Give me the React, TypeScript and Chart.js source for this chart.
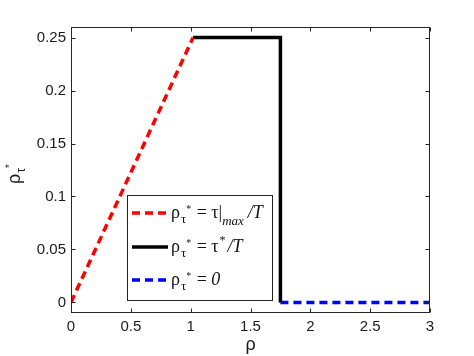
import React, { useEffect, useRef } from 'react';
import { Chart, registerables } from 'chart.js';
Chart.register(...registerables);

const redX = [0, 1.02];
const redY = [0, 0.25];
const blackX = [1.02, 1.75, 1.75];
const blackY = [0.25, 0.25, 0];
const blueX = [1.75, 3];
const blueY = [0, 0];
const xTicks = [0, 0.5, 1, 1.5, 2, 2.5, 3];
const yTicks = [0, 0.05, 0.1, 0.15, 0.2, 0.25];

const SERIF = 'Liberation Serif';
const SANS = 'Liberation Sans';
const AXC = '#262626';

type Seg = { t: string; f: string; dy?: number; dx?: number };

function drawRich(ctx: CanvasRenderingContext2D, x: number, y: number, segs: Seg[]) {
  let cx = x;
  for (const s of segs) {
    ctx.font = s.f;
    cx += s.dx || 0;
    ctx.fillText(s.t, cx, y + (s.dy || 0));
    cx += ctx.measureText(s.t).width;
  }
}

const rhoTau = (): Seg[] => [
  { t: 'ρ', f: `18px ${SERIF}` },
  { t: 'τ', f: `13px ${SERIF}`, dy: 5, dx: 1 },
  { t: '*', f: `10px ${SERIF}`, dy: -6, dx: 0 },
];

const framePlugin = {
  id: 'frame',
  afterDraw(chart: any) {
    const ctx: CanvasRenderingContext2D = chart.ctx;
    const a = chart.chartArea;
    const xs = chart.scales.x;
    const ys = chart.scales.y;
    ctx.save();
    ctx.strokeStyle = AXC;
    ctx.lineWidth = 1;
    const L = Math.round(a.left) + 0.5, R = Math.round(a.right) - 0.5;
    const T = Math.round(a.top) + 0.5, B = Math.round(a.bottom) - 0.5;
    ctx.strokeRect(L, T, R - L, B - T);
    ctx.beginPath();
    for (const v of xTicks) {
      const px = Math.round(xs.getPixelForValue(v)) + 0.5;
      ctx.moveTo(px, B); ctx.lineTo(px, B - 4);
      ctx.moveTo(px, T); ctx.lineTo(px, T + 4);
    }
    for (const v of yTicks) {
      const py = Math.round(ys.getPixelForValue(v)) + 0.5;
      ctx.moveTo(L, py); ctx.lineTo(L + 4, py);
      ctx.moveTo(R, py); ctx.lineTo(R - 4, py);
    }
    ctx.stroke();

    // y axis title (rotated)
    ctx.fillStyle = '#1a1a1a';
    ctx.translate(20, 184);
    ctx.rotate(-Math.PI / 2);
    ctx.textBaseline = 'alphabetic';
    drawRich(ctx, 0, 0, [
      { t: 'ρ', f: `18px ${SANS}` },
      { t: 'τ', f: `12px ${SANS}`, dy: 5, dx: 1 },
      { t: '*', f: `10px ${SANS}`, dy: -7 },
    ]);
    ctx.restore();

    // legend
    ctx.save();
    const bx = 127, by = 195, bw = 145, bh = 105;
    ctx.fillStyle = '#ffffff';
    ctx.fillRect(bx, by, bw, bh);
    ctx.strokeStyle = '#222';
    ctx.lineWidth = 1;
    ctx.strokeRect(bx + 0.5, by + 0.5, bw, bh);
    const rows = [213, 247, 280];
    const styles = [
      { c: '#ff0000', d: [8, 5] },
      { c: '#000000', d: [] as number[] },
      { c: '#0000ff', d: [8, 5] },
    ];
    ctx.lineWidth = 3.5;
    rows.forEach((ry, i) => {
      ctx.strokeStyle = styles[i].c;
      ctx.setLineDash(styles[i].d);
      ctx.beginPath();
      ctx.moveTo(132, ry);
      ctx.lineTo(168, ry);
      ctx.stroke();
    });
    ctx.setLineDash([]);
    ctx.fillStyle = '#111';
    ctx.textBaseline = 'alphabetic';
    drawRich(ctx, 171, rows[0] + 5, [
      ...rhoTau(),
      { t: ' = τ|', f: `18px ${SERIF}`, dx: 1 },
      { t: 'max', f: `italic 13px ${SERIF}`, dy: 7 },
      { t: '/T', f: `italic 18px ${SERIF}`, dx: 4 },
    ]);
    drawRich(ctx, 171, rows[1] + 5, [
      ...rhoTau(),
      { t: ' = τ', f: `18px ${SERIF}`, dx: 1 },
      { t: '*', f: `12px ${SERIF}`, dy: -8, dx: 1 },
      { t: '/T', f: `italic 18px ${SERIF}`, dx: 2 },
    ]);
    drawRich(ctx, 171, rows[2] + 5, [
      ...rhoTau(),
      { t: ' = ', f: `18px ${SERIF}`, dx: 1 },
      { t: '0', f: `italic 18px ${SERIF}` },
    ]);
    ctx.restore();
  },
};

export default function App() {
  const ref = useRef<HTMLCanvasElement>(null);
  useEffect(() => {
    const mk = (xs: number[], ys: number[]) => xs.map((x, i) => ({ x, y: ys[i] }));
    const chart = new Chart(ref.current as HTMLCanvasElement, {
      type: 'line',
      data: {
        datasets: [
          { data: mk(redX, redY), borderColor: '#ff0000', borderWidth: 3.5, borderDash: [8, 5], pointRadius: 0, fill: false, tension: 0 },
          { data: mk(blackX, blackY), borderColor: '#000000', borderWidth: 3.5, pointRadius: 0, fill: false, tension: 0, borderJoinStyle: 'miter' },
          { data: mk(blueX, blueY), borderColor: '#0000ff', borderWidth: 3.5, borderDash: [8, 5], pointRadius: 0, fill: false, tension: 0 },
        ],
      } as any,
      options: {
        animation: false,
        responsive: true,
        maintainAspectRatio: false,
        layout: { padding: { top: 27, right: 44, left: 0, bottom: 0 } },
        plugins: { legend: { display: false }, tooltip: { enabled: false } },
        scales: {
          x: {
            type: 'linear',
            min: 0,
            max: 3,
            afterBuildTicks: (s: any) => { s.ticks = xTicks.map((v) => ({ value: v })); },
            afterFit: (s: any) => { s.height = 43; },
            grid: { display: false, drawTicks: false, tickLength: 0 },
            border: { display: false },
            ticks: { font: { family: SANS, size: 15 }, color: '#1a1a1a', padding: 5, maxRotation: 0, autoSkip: false, callback: (v: any) => String(v) },
            title: { display: true, text: 'ρ', font: { family: SANS, size: 18 }, color: '#1a1a1a', padding: { top: 0, bottom: 0 } },
          },
          y: {
            type: 'linear',
            min: -0.01,
            max: 0.26,
            afterBuildTicks: (s: any) => { s.ticks = yTicks.map((v) => ({ value: v })); },
            afterFit: (s: any) => { s.width = 71; },
            grid: { display: false, drawTicks: false, tickLength: 0 },
            border: { display: false },
            ticks: { font: { family: SANS, size: 15 }, color: '#1a1a1a', padding: 5, autoSkip: false, callback: (v: any) => String(v) },
          },
        },
      } as any,
      plugins: [framePlugin],
    });
    return () => chart.destroy();
  }, []);
  return (
    <div style={{ position: 'fixed', left: 0, top: 0, width: 474, height: 356, background: '#fff' }}>
      <canvas ref={ref} />
    </div>
  );
}
